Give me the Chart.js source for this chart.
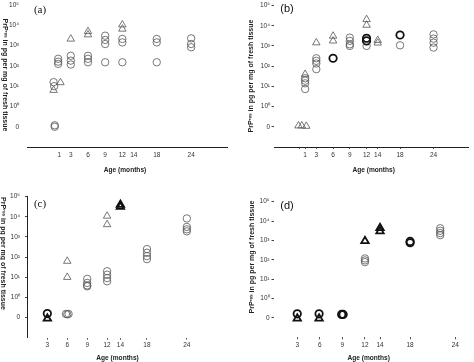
<!DOCTYPE html>
<html><head><meta charset="utf-8">
<script src="https://cdn.jsdelivr.net/npm/chart.js@4.4.1/dist/chart.umd.min.js"></script>
<style>
html,body{margin:0;padding:0;background:#fff;}
#wrap{position:relative;width:474px;height:362px;overflow:hidden;background:#fff;}
canvas{position:absolute;}
</style></head><body>
<div id="wrap">
<canvas id="ca" width="237" height="181" style="left:0;top:0"></canvas>
<canvas id="cb" width="237" height="181" style="left:237px;top:0"></canvas>
<canvas id="cc" width="237" height="181" style="left:0;top:181px"></canvas>
<canvas id="cd" width="237" height="181" style="left:237px;top:181px"></canvas>
</div>
<script>
// Values: [age in months, log10(PrPres pg/mg)]; the row at -1 is the "0" row of the axis
const yTickValues = [-1, 0, 1, 2, 3, 4, 5];
const yTickLabels = ['0', '10⁰', '10¹', '10²', '10³', '10⁴', '10⁵'];
const monthsA = [1, 3, 6, 9, 12, 14, 18, 24];
const monthsB = [0, 1, 3, 6, 9, 12, 14, 18, 24];
const monthsCD = [3, 6, 9, 12, 14, 18, 24];

// (a)
const aCircles = [[0.2,-1.0],[0.2,-0.93],[0,1.2],[0.1,1.0],
  [0.8,2.35],[0.8,2.21],[0.8,2.1],[3,2.5],[3,2.26],[3,2.07],
  [6,2.5],[6,2.35],[6,2.18],[9,3.49],[9,3.28],[9,3.08],[9,2.18],
  [12,3.33],[12,3.16],[12,2.18],[18,3.33],[18,3.16],[18,2.18],
  [24,3.36],[24,3.08],[24,2.92]];
const aTriangles = [[0,0.8],[1.2,1.18],[3,3.33],[6,3.7],[6,3.54],[12,4.03],[12,3.82]];
const aBoldCircles = [];
const aBoldTriangles = [];

// (b)
const bCircles = [[1,1.4],[1,1.28],[1,1.15],[1,0.87],
  [3,2.39],[3,2.26],[3,2.13],[3,1.85],[9,3.41],[9,3.25],[9,3.08],[9,3.0],
  [12,3.0],[18,3.03],[24,3.57],[24,3.36],[24,3.16],[24,2.92]];
const bTriangles = [[-0.2,-0.95],[0.4,-0.95],[1.2,-0.97],[1,1.6],[3,3.16],
  [6,3.49],[6,3.25],[12,4.31],[12,4.03],[14,3.28],[14,3.15]];
const bBoldCircles = [[6,2.39],[12,3.38],[12,3.25],[18,3.54]];
const bBoldTriangles = [];

// (c)
const cCircles = [[5.8,-0.82],[6.0,-0.84],[6.2,-0.82],
  [9,0.92],[9,0.72],[9,0.6],[9,0.55],[12,1.3],[12,1.13],[12,0.96],[12,0.8],
  [18,2.4],[18,2.22],[18,2.05],[18,1.9],[24,3.92],[24,3.5],[24,3.38],[24,3.28]];
const cTriangles = [[6,1.8],[6,1.0],[12,4.04],[12,3.62]];
const cBoldCircles = [[3,-0.8]];
const cBoldTriangles = [[3,-1.05],[14,4.6],[14,4.5]];

// (d)
const dCircles = [[12,2.07],[12,1.97],[12,1.88],[22,3.63],[22,3.5],[22,3.38],[22,3.27]];
const dTriangles = [];
const dBoldCircles = [[3,-0.79],[5.9,-0.79],[8.9,-0.82],[9.1,-0.82],[18,2.95],[18,2.88]];
const dBoldTriangles = [[3,-1.03],[5.9,-1.03],[12,2.97],[14,3.64],[14,3.48]];

const yTitle = 'PrPʳᵉˢ in pg per mg of fresh tissue';
const xTitle = 'Age (months)';
const SANS = '"Liberation Sans", Arial, sans-serif';
const SERIF = '"Liberation Serif", "Times New Roman", serif';

function pts(arr){ return arr.map(p => ({x: p[0], y: p[1]})); }

function make(id, c) {
  const W = 237, H = 181;
  const ds = (data, style, bold) => ({
    data: pts(data), pointStyle: style,
    pointRadius: style === 'circle' ? 3.7 : 4.3,
    pointHoverRadius: style === 'circle' ? 3.7 : 4.3,
    borderColor: bold ? '#111' : '#555',
    borderWidth: bold ? 1.8 : 0.8,
    pointBorderWidth: bold ? 1.8 : 0.8,
    backgroundColor: 'rgba(0,0,0,0)', showLine: false
  });
  const txt = {
    id: 'txt',
    afterDraw(chart) {
      const ctx = chart.ctx;
      c.texts.forEach(t => {
        ctx.save();
        ctx.font = t.font; ctx.fillStyle = t.color || '#222';
        ctx.textAlign = 'center'; ctx.textBaseline = 'middle';
        ctx.translate(t.x, t.y);
        if (t.rot) ctx.rotate(t.rot * Math.PI / 180);
        ctx.fillText(t.text, 0, 0);
        ctx.restore();
      });
    }
  };
  new Chart(document.getElementById(id), {
    type: 'scatter',
    data: { datasets: [
      ds(c.circles, 'circle', false), ds(c.triangles, 'triangle', false),
      ds(c.boldCircles, 'circle', true), ds(c.boldTriangles, 'triangle', true)
    ]},
    options: {
      responsive: false, animation: false, devicePixelRatio: 1,
      events: [],
      layout: { padding: { left: 0, top: c.area.top, right: W - c.area.right, bottom: 0 } },
      plugins: { legend: { display: false }, tooltip: { enabled: false } },
      scales: {
        x: {
          type: 'linear', min: c.xmin, max: c.xmax,
          border: { display: c.xBorder, color: '#222', width: 1 },
          grid: { display: c.xTickLen > 0, drawOnChartArea: false, drawTicks: true,
                  tickLength: c.xTickLen, color: '#555', lineWidth: 1 },
          ticks: { autoSkip: false, maxRotation: 0, minRotation: 0, padding: c.xPad,
                   color: '#333', font: { family: SANS, size: 6.5 },
                   callback: v => (v === 0 ? '' : String(v)) },
          afterBuildTicks: s => { s.ticks = c.xTicks.map(v => ({ value: v })); },
          afterFit: s => { s.height = H - c.area.bottom; s.paddingLeft = 0; s.paddingRight = 0; }
        },
        y: {
          type: 'linear', min: -2, max: 5,
          border: { display: c.yBorder, color: '#222', width: 1 },
          grid: { display: c.yTickLen > 0, drawOnChartArea: false, drawTicks: true,
                  tickLength: c.yTickLen, color: '#444', lineWidth: 1 },
          ticks: { autoSkip: false, padding: c.yPad, color: '#333',
                   font: { family: SANS, size: 6.5 },
                   callback: v => { const i = yTickValues.indexOf(v); return i < 0 ? '' : yTickLabels[i]; } },
          afterBuildTicks: s => { s.ticks = yTickValues.map(v => ({ value: v })); },
          afterFit: s => { s.width = c.area.left; s.paddingTop = 0; s.paddingBottom = 0; }
        }
      }
    },
    plugins: [txt]
  });
}

const titleFont = 'bold 6.6px ' + SANS;
const yFont = 'bold 7px ' + SANS;

make('ca', {
  circles: aCircles, triangles: aTriangles, boldCircles: aBoldCircles, boldTriangles: aBoldTriangles,
  area: { left: 27, top: 3, right: 227, bottom: 147 }, xmin: -4.64, xmax: 30.26, xTicks: monthsA,
  xBorder: true, yBorder: false, xTickLen: 0, yTickLen: 0, xPad: 4, yPad: 8,
  texts: [
    { text: xTitle, x: 125, y: 170, font: titleFont },
    { text: yTitle, x: 4.5, y: 75, rot: 90, font: yFont },
    { text: '(a)', x: 40, y: 10, font: '11px ' + SERIF, color: '#111' }
  ]
});
make('cb', {
  circles: bCircles, triangles: bTriangles, boldCircles: bBoldCircles, boldTriangles: bBoldTriangles,
  area: { left: 37, top: 3, right: 237, bottom: 147 }, xmin: -4.58, xmax: 30.26, xTicks: monthsB,
  xBorder: true, yBorder: false, xTickLen: 2, yTickLen: 2.5, xPad: 2, yPad: 1.5,
  texts: [
    { text: xTitle, x: 136.7, y: 170, font: titleFont },
    { text: yTitle, x: 14.5, y: 76, rot: -90, font: yFont },
    { text: '(b)', x: 50, y: 9, font: '11px ' + SANS, color: '#111' }
  ]
});
make('cc', {
  circles: cCircles, triangles: cTriangles, boldCircles: cBoldCircles, boldTriangles: cBoldTriangles,
  area: { left: 27, top: 15.7, right: 230, bottom: 156.7 }, xmin: -0.06, xmax: 30.5, xTicks: monthsCD,
  xBorder: false, yBorder: true, xTickLen: 2, yTickLen: 2, xPad: 2, yPad: 5,
  texts: [
    { text: xTitle, x: 117.5, y: 176.7, font: titleFont },
    { text: yTitle, x: 3, y: 72.5, rot: 90, font: yFont },
    { text: '(c)', x: 40, y: 22.8, font: '11px ' + SERIF, color: '#111' }
  ]
});
make('cd', {
  circles: dCircles, triangles: dTriangles, boldCircles: dBoldCircles, boldTriangles: dBoldTriangles,
  area: { left: 37, top: 20.7, right: 237, bottom: 156.3 }, xmin: -0.09, xmax: 25.68, xTicks: monthsCD,
  xBorder: false, yBorder: false, xTickLen: 2, yTickLen: 2.5, xPad: 2, yPad: 2,
  texts: [
    { text: xTitle, x: 131.7, y: 176.7, font: titleFont },
    { text: yTitle, x: 15.5, y: 76, rot: -90, font: yFont },
    { text: '(d)', x: 50, y: 24.7, font: '11px ' + SANS, color: '#111' }
  ]
});
</script>
</body></html>
